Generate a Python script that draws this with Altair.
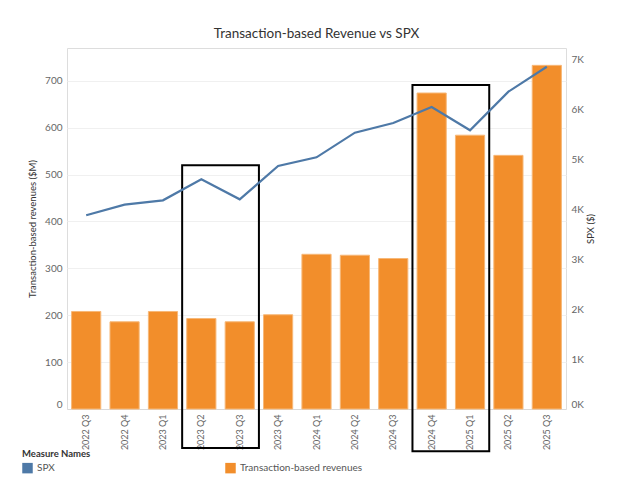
import altair as alt
import pandas as pd

# Quarterly figures
quarters = ["2022 Q3", "2022 Q4", "2023 Q1", "2023 Q2", "2023 Q3", "2023 Q4",
            "2024 Q1", "2024 Q2", "2024 Q3", "2024 Q4", "2025 Q1", "2025 Q2", "2025 Q3"]
revenue = [208, 186, 208, 193, 186, 201, 330, 328, 321, 674, 584, 541, 733]
spx = [3879, 4091, 4179, 4599, 4199, 4866, 5040, 5533, 5727, 6047, 5581, 6354, 6854]

# Highlighted quarter ranges (in revenue-axis units)
box_start = ["2023 Q2", "2024 Q4"]
box_end = ["2023 Q3", "2025 Q1"]
box_top = [520, 691]
box_bottom = [-83, -90]

SPX_NAME = "SPX"
REV_NAME = "Transaction-based revenues"
REV_TITLE = "Transaction-based revenues ($M)"
BLUE = "#4E79A7"
ORANGE = "#F28E2B"
FONT = "Lato"

df = pd.DataFrame({"quarter": quarters, "revenue": revenue, "spx": spx,
                   "measure": REV_NAME})
boxes_df = pd.DataFrame({"start": box_start, "end": box_end,
                         "top": box_top, "bottom": box_bottom})

x_scale = alt.Scale(domain=quarters, paddingInner=0, paddingOuter=0)
rev_scale = alt.Scale(domain=[0, 770], nice=False)

bars = alt.Chart(df).mark_bar(
    width=alt.RelativeBandSize(0.76), stroke="#F7B878", strokeWidth=1
).encode(
    x=alt.X("quarter:N", scale=x_scale, sort=quarters, title=None,
            axis=alt.Axis(title=None, labelAngle=-90, ticks=False, labelPadding=5,
                          labelFontSize=9, labelColor="#666666",
                          domainColor="#d9d9d9", labelFont=FONT)),
    y=alt.Y("revenue:Q", scale=rev_scale, title=REV_TITLE,
            axis=alt.Axis(title=REV_TITLE,
                          values=list(range(0, 701, 100)), ticks=False, domain=False,
                          grid=True, gridColor="#f0f0f0", labelPadding=5,
                          labelFlush=True, labelFontSize=10, labelColor="#666666",
                          titleFontSize=9.5, titleFontWeight="normal",
                          titleColor="#333333", titlePadding=7,
                          labelFont=FONT, titleFont=FONT)),
    color=alt.Color("measure:N",
                    scale=alt.Scale(domain=[SPX_NAME, REV_NAME], range=[BLUE, ORANGE]),
                    legend=alt.Legend(title="Measure Names", orient="none",
                                      legendX=-45, legendY=401,
                                      direction="horizontal", columns=2,
                                      columnPadding=170, symbolType="square",
                                      symbolSize=110, symbolStrokeWidth=0,
                                      titleFontSize=9.5, titleFontWeight="bold",
                                      titleColor="#333333", labelFontSize=10,
                                      labelColor="#555555", titlePadding=4,
                                      labelFont=FONT, titleFont=FONT)),
)

boxes = alt.Chart(boxes_df).mark_rect(
    filled=False, stroke="black", strokeWidth=2, clip=False
).encode(
    x=alt.X("start:N", scale=x_scale, bandPosition=0, title=None),
    x2=alt.X2("end:N", bandPosition=1),
    y=alt.Y("top:Q", scale=rev_scale, title=REV_TITLE),
    y2="bottom:Q",
)

line = alt.Chart(df).mark_line(color=BLUE, strokeWidth=2.2).encode(
    x=alt.X("quarter:N", scale=x_scale, sort=quarters, title=None),
    y=alt.Y("spx:Q", scale=alt.Scale(domain=[0, 7229], nice=False),
            axis=alt.Axis(orient="right", title="SPX ($)", titleAngle=270,
                          values=list(range(0, 7001, 1000)),
                          labelExpr="datum.value / 1000 + 'K'",
                          ticks=False, domain=False, grid=False, labelPadding=5,
                          labelFlush=True, labelFontSize=10, labelColor="#666666",
                          titleFontSize=9.5, titleFontWeight="normal",
                          titleColor="#333333", titlePadding=12,
                          labelFont=FONT, titleFont=FONT)),
)

chart = alt.layer(
    alt.layer(bars, boxes), line
).resolve_scale(
    y="independent"
).properties(
    width=499,
    height=361,
    title=alt.TitleParams("Transaction-based Revenue vs SPX", fontSize=13.5,
                          fontWeight="normal", color="#333333", font=FONT,
                          anchor="middle", offset=8),
    autosize=alt.AutoSizeParams(type="none"),
    padding={"left": 67, "top": 48, "right": 74, "bottom": 87},
).configure_view(
    stroke="#e6e6e6"
).configure(
    background="white"
)

chart.save("out.html", embed_options={"renderer": "svg", "actions": False})
